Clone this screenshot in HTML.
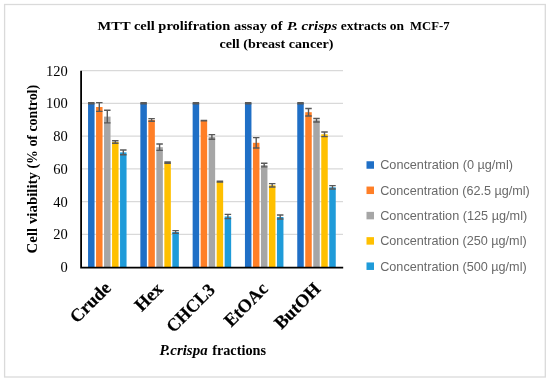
<!DOCTYPE html>
<html lang="en">
<head>
<meta charset="utf-8">
<title>MTT cell prolifration assay</title>
<style>
html,body{margin:0;padding:0;background:#fff;}
body{width:550px;height:382px;overflow:hidden;}
svg{display:block;}
.ser{font-family:"Liberation Serif",serif;}
.san{font-family:"Liberation Sans",sans-serif;}
.b{font-weight:bold;}
.i{font-style:italic;}
</style>
</head>
<body>
<svg width="550" height="382" viewBox="0 0 550 382">
<rect x="0" y="0" width="550" height="382" fill="#ffffff"/>
<rect x="4.6" y="4.5" width="540.7" height="372.5" fill="#ffffff" stroke="#dadada" stroke-width="1.3"/>

<g stroke="#d9d9d9" stroke-width="1.3">
<line x1="81.5" y1="234.40" x2="343" y2="234.40"/>
<line x1="81.5" y1="201.65" x2="343" y2="201.65"/>
<line x1="81.5" y1="168.90" x2="343" y2="168.90"/>
<line x1="81.5" y1="136.15" x2="343" y2="136.15"/>
<line x1="81.5" y1="103.40" x2="343" y2="103.40"/>
<line x1="81.5" y1="70.65" x2="343" y2="70.65"/>
</g>
<rect x="88.05" y="103.25" width="6.5" height="163.75" fill="#1f6fc6"/>
<rect x="96.05" y="107.00" width="6.5" height="160.00" fill="#ff7f27"/>
<rect x="104.05" y="116.60" width="6.5" height="150.40" fill="#a6a6a6"/>
<rect x="112.05" y="142.00" width="6.5" height="125.00" fill="#ffc000"/>
<rect x="120.05" y="152.40" width="6.5" height="114.60" fill="#1f9bd9"/>
<rect x="140.35" y="103.25" width="6.5" height="163.75" fill="#1f6fc6"/>
<rect x="148.35" y="119.90" width="6.5" height="147.10" fill="#ff7f27"/>
<rect x="156.35" y="147.20" width="6.5" height="119.80" fill="#a6a6a6"/>
<rect x="164.35" y="162.60" width="6.5" height="104.40" fill="#ffc000"/>
<rect x="172.35" y="232.00" width="6.5" height="35.00" fill="#1f9bd9"/>
<rect x="192.65" y="103.25" width="6.5" height="163.75" fill="#1f6fc6"/>
<rect x="200.65" y="120.60" width="6.5" height="146.40" fill="#ff7f27"/>
<rect x="208.65" y="136.90" width="6.5" height="130.10" fill="#a6a6a6"/>
<rect x="216.65" y="181.60" width="6.5" height="85.40" fill="#ffc000"/>
<rect x="224.65" y="216.50" width="6.5" height="50.50" fill="#1f9bd9"/>
<rect x="244.95" y="103.25" width="6.5" height="163.75" fill="#1f6fc6"/>
<rect x="252.95" y="142.80" width="6.5" height="124.20" fill="#ff7f27"/>
<rect x="260.95" y="165.10" width="6.5" height="101.90" fill="#a6a6a6"/>
<rect x="268.95" y="185.30" width="6.5" height="81.70" fill="#ffc000"/>
<rect x="276.95" y="217.00" width="6.5" height="50.00" fill="#1f9bd9"/>
<rect x="297.25" y="103.25" width="6.5" height="163.75" fill="#1f6fc6"/>
<rect x="305.25" y="112.20" width="6.5" height="154.80" fill="#ff7f27"/>
<rect x="313.25" y="120.25" width="6.5" height="146.75" fill="#a6a6a6"/>
<rect x="321.25" y="134.30" width="6.5" height="132.70" fill="#ffc000"/>
<rect x="329.25" y="187.30" width="6.5" height="79.70" fill="#1f9bd9"/>
<g stroke="#595959" stroke-width="1.4" fill="none">
<path d="M88.05 102.65H94.55M88.05 103.85H94.55M91.30 102.65V103.85"/>
<path d="M96.05 102.60H102.55M96.05 111.40H102.55M99.30 102.60V111.40"/>
<path d="M104.05 110.30H110.55M104.05 122.90H110.55M107.30 110.30V122.90"/>
<path d="M112.05 140.80H118.55M112.05 143.20H118.55M115.30 140.80V143.20"/>
<path d="M120.05 150.00H126.55M120.05 154.80H126.55M123.30 150.00V154.80"/>
<path d="M140.35 102.65H146.85M140.35 103.85H146.85M143.60 102.65V103.85"/>
<path d="M148.35 118.60H154.85M148.35 121.20H154.85M151.60 118.60V121.20"/>
<path d="M156.35 144.00H162.85M156.35 150.40H162.85M159.60 144.00V150.40"/>
<path d="M164.35 162.00H170.85M164.35 163.20H170.85M167.60 162.00V163.20"/>
<path d="M172.35 230.60H178.85M172.35 233.40H178.85M175.60 230.60V233.40"/>
<path d="M192.65 102.65H199.15M192.65 103.85H199.15M195.90 102.65V103.85"/>
<path d="M200.65 120.40H207.15M200.65 120.80H207.15M203.90 120.40V120.80"/>
<path d="M208.65 134.60H215.15M208.65 139.20H215.15M211.90 134.60V139.20"/>
<path d="M216.65 181.20H223.15M216.65 182.00H223.15M219.90 181.20V182.00"/>
<path d="M224.65 214.40H231.15M224.65 218.60H231.15M227.90 214.40V218.60"/>
<path d="M244.95 102.65H251.45M244.95 103.85H251.45M248.20 102.65V103.85"/>
<path d="M252.95 137.60H259.45M252.95 148.00H259.45M256.20 137.60V148.00"/>
<path d="M260.95 163.30H267.45M260.95 166.90H267.45M264.20 163.30V166.90"/>
<path d="M268.95 183.60H275.45M268.95 187.00H275.45M272.20 183.60V187.00"/>
<path d="M276.95 215.00H283.45M276.95 219.00H283.45M280.20 215.00V219.00"/>
<path d="M297.25 102.65H303.75M297.25 103.85H303.75M300.50 102.65V103.85"/>
<path d="M305.25 108.45H311.75M305.25 115.95H311.75M308.50 108.45V115.95"/>
<path d="M313.25 118.50H319.75M313.25 122.00H319.75M316.50 118.50V122.00"/>
<path d="M321.25 132.00H327.75M321.25 136.60H327.75M324.50 132.00V136.60"/>
<path d="M329.25 185.60H335.75M329.25 189.00H335.75M332.50 185.60V189.00"/>
</g>
<path d="M81.1 70.8V267.65H343.2" stroke="#000" stroke-width="1.8" fill="none"/>
<g class="ser" font-size="14.5" fill="#000" text-anchor="end">
<text x="67.8" y="272.00">0</text>
<text x="67.8" y="239.25">20</text>
<text x="67.8" y="206.50">40</text>
<text x="67.8" y="173.75">60</text>
<text x="67.8" y="141.00">80</text>
<text x="67.8" y="108.25">100</text>
<text x="67.8" y="75.50">120</text>
</g>
<text class="ser b" font-size="13.3" fill="#000" y="29.9"><tspan x="97.6" textLength="185" lengthAdjust="spacingAndGlyphs">MTT cell prolifration assay of</tspan> <tspan class="i" x="287" textLength="50.2" lengthAdjust="spacingAndGlyphs">P. crisps</tspan> <tspan x="340.7" textLength="63.4" lengthAdjust="spacingAndGlyphs">extracts on</tspan> <tspan x="410" textLength="39.6" lengthAdjust="spacingAndGlyphs">MCF-7</tspan></text>
<text class="ser b" font-size="13.3" fill="#000" x="219.4" y="48" textLength="114" lengthAdjust="spacingAndGlyphs">cell (breast cancer)</text>
<text class="ser b" font-size="13.7" fill="#000" transform="translate(36.8 253.4) rotate(-90)"><tspan x="0" textLength="81.4" lengthAdjust="spacingAndGlyphs">Cell viability</tspan> <tspan x="84.9" textLength="83.6" lengthAdjust="spacingAndGlyphs">(% of control)</tspan></text>
<text class="ser b" font-size="13.6" fill="#000" y="354.7"><tspan class="i" x="159.4" textLength="48.2" lengthAdjust="spacingAndGlyphs">P.crispa</tspan> <tspan x="212.2" textLength="53.8" lengthAdjust="spacingAndGlyphs">fractions</tspan></text>
<text class="ser b" font-size="18.2" fill="#000" stroke="#000" stroke-width="0.2" text-anchor="end" transform="translate(112 289.1) rotate(-45)">Crude</text>
<text class="ser b" font-size="18.2" fill="#000" stroke="#000" stroke-width="0.2" text-anchor="end" transform="translate(164 290.0) rotate(-45)">Hex</text>
<text class="ser b" font-size="18.2" fill="#000" stroke="#000" stroke-width="0.2" text-anchor="end" transform="translate(215.9 291.0) rotate(-45)" textLength="60.0" lengthAdjust="spacingAndGlyphs">CHCL3</text>
<text class="ser b" font-size="18.2" fill="#000" stroke="#000" stroke-width="0.2" text-anchor="end" transform="translate(269 289.9) rotate(-45)">EtOAc</text>
<text class="ser b" font-size="18.2" fill="#000" stroke="#000" stroke-width="0.2" text-anchor="end" transform="translate(321.5 290) rotate(-45)">ButOH</text>
<rect x="366.5" y="161.25" width="7.5" height="7.5" fill="#1f6fc6"/>
<text class="san" font-size="12.2" fill="#696969" x="380.2" y="169.30" textLength="132.8" lengthAdjust="spacingAndGlyphs">Concentration (0 µg/ml)</text>
<rect x="366.5" y="186.55" width="7.5" height="7.5" fill="#ff7f27"/>
<text class="san" font-size="12.2" fill="#696969" x="380.2" y="194.60" textLength="149.6" lengthAdjust="spacingAndGlyphs">Concentration (62.5 µg/ml)</text>
<rect x="366.5" y="211.85" width="7.5" height="7.5" fill="#a6a6a6"/>
<text class="san" font-size="12.2" fill="#696969" x="380.2" y="219.90" textLength="147.0" lengthAdjust="spacingAndGlyphs">Concentration (125 µg/ml)</text>
<rect x="366.5" y="237.15" width="7.5" height="7.5" fill="#ffc000"/>
<text class="san" font-size="12.2" fill="#696969" x="380.2" y="245.20" textLength="146.5" lengthAdjust="spacingAndGlyphs">Concentration (250 µg/ml)</text>
<rect x="366.5" y="262.45" width="7.5" height="7.5" fill="#1f9bd9"/>
<text class="san" font-size="12.2" fill="#696969" x="380.2" y="270.50" textLength="146.5" lengthAdjust="spacingAndGlyphs">Concentration (500 µg/ml)</text>
</svg>
</body>
</html>
